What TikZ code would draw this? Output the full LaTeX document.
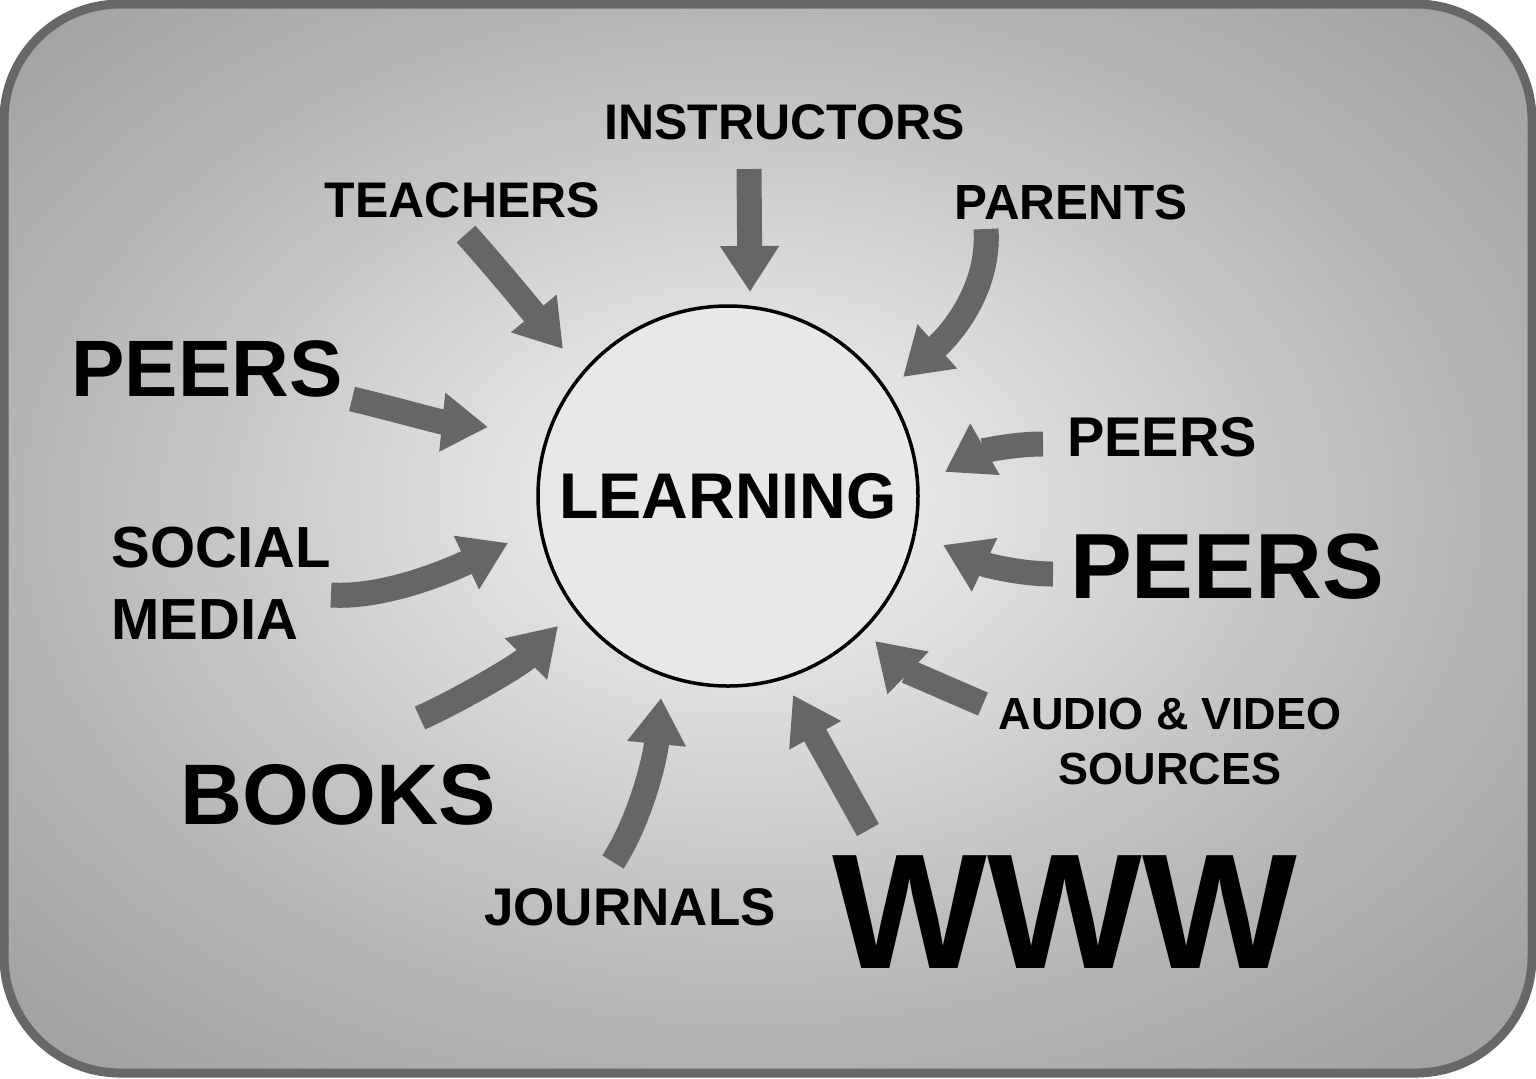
\documentclass[tikz,border=0pt]{standalone}
\usepackage{fontspec}
\setmainfont{Liberation Sans}
\usetikzlibrary{arrows.meta}
\definecolor{arrowgray}{HTML}{666666}
\definecolor{framegray}{HTML}{676767}
\pgfdeclareradialshading{bgshade}{\pgfpoint{-1.1bp}{2.3bp}}{color(0bp)=(black!8); color(6bp)=(black!10); color(12bp)=(black!16); color(19bp)=(black!24); color(25bp)=(black!30); color(33bp)=(black!36); color(50bp)=(black!37)}
\begin{document}
\begin{tikzpicture}[x=0.5pt,y=-0.5pt,
  lbl/.style={font={\bfseries\fontsize{#1}{#1}\selectfont}, inner sep=0pt, text=black},
  feed/.style={draw=arrowgray, line width=12.5pt, -{Triangle[width=28pt,length=23pt]}}]
\useasboundingbox (0,0) rectangle (1536,1078);
% frame
\shade[shading=bgshade, rounded corners=58pt] (4,4) rectangle (1532,1073);
\draw[framegray, line width=4.5pt, rounded corners=58pt] (4,4) rectangle (1532,1073);
% centre
\node[circle, draw=black, line width=1.75pt, fill=black!9, minimum size=190pt, inner sep=0pt,
      font={\bfseries\fontsize{32.3}{32.3}\selectfont}] (learn) at (728,496) {LEARNING};
% labels
\node[lbl=25] (instr) at (784.5,122) {INSTRUCTORS};
\node[lbl=25] (teach) at (462.5,200) {TEACHERS};
\node[lbl=24.7] (par) at (1071,202) {PARENTS};
\node[lbl=40] (peersL) at (207,369) {PEERS};
\node[font={\bfseries\fontsize{29}{36}\selectfont}, inner sep=0pt, align=left, anchor=west] (social) at (111,583) {SOCIAL\\MEDIA};
\node[lbl=43] (books) at (338,795) {BOOKS};
\node[lbl=26.5] (journ) at (630,907) {JOURNALS};
\node[lbl=82] (www) at (1065,912) {WWW};
\node[font={\bfseries\fontsize{22.5}{27.5}\selectfont}, inner sep=0pt, align=center] (audio) at (1170,741.5) {AUDIO \& VIDEO\\SOURCES};
\node[lbl=28] (peersR1) at (1162,437) {PEERS};
\node[lbl=46.3] (peersR2) at (1227,567) {PEERS};
% arrow end points
\coordinate (instrT) at (749,169);  \coordinate (instrH) at (750,292);
\coordinate (teachT) at (466,234);  \coordinate (teachH) at (563,349);
\coordinate (parT) at (986,229);    \coordinate (parH) at (903,377);
\coordinate (peersLT) at (352,399); \coordinate (peersLH) at (488,427);
\coordinate (socialT) at (331,595); \coordinate (socialH) at (508,543);
\coordinate (booksT) at (420,718);  \coordinate (booksH) at (558,626);
\coordinate (journT) at (613,862);  \coordinate (journH) at (661,698);
\coordinate (wwwT) at (868,830);    \coordinate (wwwH) at (793,695);
\coordinate (audioT) at (983,704);  \coordinate (audioH) at (875,641);
\coordinate (peersR2T) at (1053,574); \coordinate (peersR2H) at (943,545);
\coordinate (peersR1T) at (1043,444); \coordinate (peersR1H) at (945,472);
% arrows
\draw[feed] (instrT) -- (instrH);
\draw[feed] (teachT) .. controls (500,272) and (535,315) .. (teachH);
\draw[feed] (parT) .. controls (990,290) and (950,335) .. (parH);
\draw[feed] (peersLT) .. controls (390,408) and (440,422) .. (peersLH);
\draw[feed] (socialT) .. controls (380,598) and (440,575) .. (socialH);
\draw[feed] (booksT) .. controls (460,700) and (520,665) .. (booksH);
\draw[feed] (journT) .. controls (640,820) and (655,760) .. (journH);
\draw[feed] (wwwT) .. controls (843,785) and (815,735) .. (wwwH);
\draw[feed] (audioT) .. controls (950,690) and (905,670) .. (audioH);
\draw[feed] (peersR2T) .. controls (1020,574) and (985,565) .. (peersR2H);
\draw[feed] (peersR1T) .. controls (1010,444) and (980,452) .. (peersR1H);
\end{tikzpicture}
\end{document}
